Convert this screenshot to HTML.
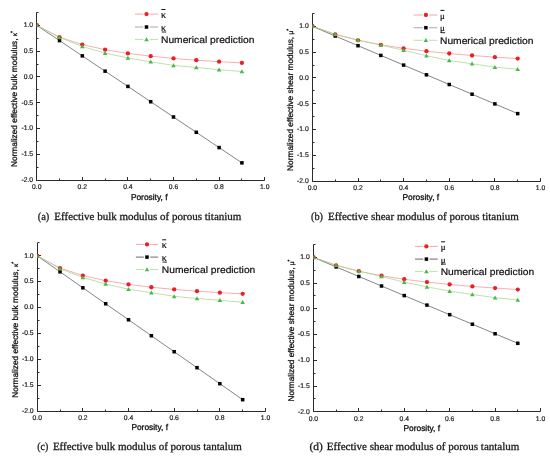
<!DOCTYPE html>
<html><head><meta charset="utf-8"><style>
html,body{margin:0;padding:0;background:#fff;width:550px;height:456px;overflow:hidden}
svg{display:block;will-change:transform;text-rendering:geometricPrecision}
</style></head><body>
<svg width="550" height="456" viewBox="0 0 550 456">
<rect width="550" height="456" fill="#fff"/>
<path d="M36.50 12.40V180.50H264.70" fill="none" stroke="#2a2a2a" stroke-width="1"/>
<path d="M36.50 180.50h3.5M36.50 167.50h2M36.50 154.50h3.5M36.50 141.50h2M36.50 128.50h3.5M36.50 115.50h2M36.50 102.50h3.5M36.50 89.50h2M36.50 76.50h3.5M36.50 64.50h2M36.50 51.50h3.5M36.50 38.50h2M36.50 25.50h3.5M36.50 12.50h2M36.50 180.50v-3.5M59.50 180.50v-2M82.50 180.50v-3.5M105.50 180.50v-2M127.50 180.50v-3.5M150.50 180.50v-2M173.50 180.50v-3.5M196.50 180.50v-2M219.50 180.50v-3.5M241.50 180.50v-2M264.50 180.50v-3.5" fill="none" stroke="#2a2a2a" stroke-width="1"/>
<g font-family='"Liberation Sans", sans-serif' font-size="6.8" fill="#1a1a1a" stroke="#1a1a1a" stroke-width="0.18"><text x="33.10" y="182.00" text-anchor="end">-2.0</text><text x="33.10" y="156.18" text-anchor="end">-1.5</text><text x="33.10" y="130.37" text-anchor="end">-1.0</text><text x="33.10" y="104.55" text-anchor="end">-0.5</text><text x="33.10" y="78.74" text-anchor="end">0.0</text><text x="33.10" y="52.92" text-anchor="end">0.5</text><text x="33.10" y="27.11" text-anchor="end">1.0</text><text x="36.70" y="189.10" text-anchor="middle">0.0</text><text x="82.30" y="189.10" text-anchor="middle">0.2</text><text x="127.90" y="189.10" text-anchor="middle">0.4</text><text x="173.50" y="189.10" text-anchor="middle">0.6</text><text x="219.10" y="189.10" text-anchor="middle">0.8</text><text x="264.70" y="189.10" text-anchor="middle">1.0</text></g>
<text x="149.20" y="200.40" text-anchor="middle" font-family='"Liberation Sans", sans-serif' font-size="8.4" fill="#111" stroke="#111" stroke-width="0.3">Porosity, f</text>
<text transform="translate(17.30 167.00) rotate(-90)" font-family='"Liberation Sans", sans-serif' font-size="8.3" fill="#111" stroke="#111" stroke-width="0.28">Normalized effective bulk modulus, <tspan font-size="6.5">κ</tspan><tspan font-size="5" dy="-3">*</tspan></text>
<clipPath id="c36"><rect x="36.70" y="2.40" width="238.00" height="177.80"/></clipPath><g clip-path="url(#c36)">
<polyline points="36.70,25.31 59.50,37.16 82.30,44.59 105.10,49.68 127.90,53.38 150.70,56.20 173.50,58.42 196.30,60.21 219.10,61.68 241.90,62.92" fill="none" stroke="#f59a9a" stroke-width="0.8"/>
<polyline points="36.70,25.31 59.50,40.59 82.30,55.87 105.10,71.16 127.90,86.44 150.70,101.72 173.50,117.00 196.30,132.29 219.10,147.57 241.90,162.85" fill="none" stroke="#666" stroke-width="0.8"/>
<polyline points="36.70,25.31 59.50,37.44 82.30,46.53 105.10,53.14 127.90,57.94 150.70,61.81 173.50,65.42 196.30,67.44 219.10,69.66 241.90,71.52" fill="none" stroke="#a8dc98" stroke-width="0.8"/>
<rect x="34.95" y="23.56" width="3.5" height="3.5" fill="#000"/><rect x="57.75" y="38.84" width="3.5" height="3.5" fill="#000"/><rect x="80.55" y="54.12" width="3.5" height="3.5" fill="#000"/><rect x="103.35" y="69.41" width="3.5" height="3.5" fill="#000"/><rect x="126.15" y="84.69" width="3.5" height="3.5" fill="#000"/><rect x="148.95" y="99.97" width="3.5" height="3.5" fill="#000"/><rect x="171.75" y="115.25" width="3.5" height="3.5" fill="#000"/><rect x="194.55" y="130.54" width="3.5" height="3.5" fill="#000"/><rect x="217.35" y="145.82" width="3.5" height="3.5" fill="#000"/><rect x="240.15" y="161.10" width="3.5" height="3.5" fill="#000"/><circle cx="36.70" cy="25.31" r="2.15" fill="#ee1c24"/><circle cx="59.50" cy="37.16" r="2.15" fill="#ee1c24"/><circle cx="82.30" cy="44.59" r="2.15" fill="#ee1c24"/><circle cx="105.10" cy="49.68" r="2.15" fill="#ee1c24"/><circle cx="127.90" cy="53.38" r="2.15" fill="#ee1c24"/><circle cx="150.70" cy="56.20" r="2.15" fill="#ee1c24"/><circle cx="173.50" cy="58.42" r="2.15" fill="#ee1c24"/><circle cx="196.30" cy="60.21" r="2.15" fill="#ee1c24"/><circle cx="219.10" cy="61.68" r="2.15" fill="#ee1c24"/><circle cx="241.90" cy="62.92" r="2.15" fill="#ee1c24"/><path d="M36.70 23.11L39.00 27.11H34.40Z" fill="#4cb848"/><path d="M59.50 35.24L61.80 39.24H57.20Z" fill="#4cb848"/><path d="M82.30 44.33L84.60 48.33H80.00Z" fill="#4cb848"/><path d="M105.10 50.94L107.40 54.94H102.80Z" fill="#4cb848"/><path d="M127.90 55.74L130.20 59.74H125.60Z" fill="#4cb848"/><path d="M150.70 59.61L153.00 63.61H148.40Z" fill="#4cb848"/><path d="M173.50 63.22L175.80 67.22H171.20Z" fill="#4cb848"/><path d="M196.30 65.24L198.60 69.24H194.00Z" fill="#4cb848"/><path d="M219.10 67.46L221.40 71.46H216.80Z" fill="#4cb848"/><path d="M241.90 69.32L244.20 73.32H239.60Z" fill="#4cb848"/>
</g>
<path d="M135.00 14.10H143.30M149.70 14.10H158.00" stroke="#f59a9a" stroke-width="0.9"/>
<path d="M135.00 27.00H143.30M149.70 27.00H158.00" stroke="#aaa" stroke-width="1.1"/>
<path d="M135.00 39.40H143.30M149.70 39.40H158.00" stroke="#a8dc98" stroke-width="0.8"/>
<circle cx="146.50" cy="14.10" r="2.15" fill="#ee1c24"/>
<rect x="144.75" y="25.25" width="3.5" height="3.5" fill="#000"/>
<path d="M146.50 37.20L148.80 41.20H144.20Z" fill="#4cb848"/>
<text x="161.00" y="17.70" font-family='"Liberation Serif", serif' font-size="10" fill="#111" stroke="#111" stroke-width="0.2">κ</text>
<path d="M161.40 9.50h4" stroke="#111" stroke-width="1"/>
<text x="161.00" y="30.70" font-family='"Liberation Serif", serif' font-size="10" fill="#111" stroke="#111" stroke-width="0.2">κ</text>
<path d="M161.80 32.00h4.4" stroke="#111" stroke-width="0.9"/>
<text x="161.00" y="42.80" font-family='"Liberation Sans", sans-serif' font-size="9.6" textLength="93.5" lengthAdjust="spacingAndGlyphs" fill="#111" stroke="#111" stroke-width="0.2">Numerical prediction</text>
<g font-family='"Liberation Serif", serif' font-size="11" fill="#1a1a1a" stroke="#1a1a1a" stroke-width="0.3"><text x="37.65" y="220.00" textLength="11.70" lengthAdjust="spacingAndGlyphs">(a)</text><text x="54.30" y="220.00">Effective bulk modulus of porous titanium</text></g>
<path d="M312.50 13.40V181.50H540.50" fill="none" stroke="#2a2a2a" stroke-width="1"/>
<path d="M312.50 181.50h3.5M312.50 168.50h2M312.50 155.50h3.5M312.50 142.50h2M312.50 129.50h3.5M312.50 116.50h2M312.50 103.50h3.5M312.50 90.50h2M312.50 77.50h3.5M312.50 65.50h2M312.50 52.50h3.5M312.50 39.50h2M312.50 26.50h3.5M312.50 13.50h2M312.50 181.50v-3.5M335.50 181.50v-2M358.50 181.50v-3.5M380.50 181.50v-2M403.50 181.50v-3.5M426.50 181.50v-2M449.50 181.50v-3.5M472.50 181.50v-2M494.50 181.50v-3.5M517.50 181.50v-2M540.50 181.50v-3.5" fill="none" stroke="#2a2a2a" stroke-width="1"/>
<g font-family='"Liberation Sans", sans-serif' font-size="6.8" fill="#1a1a1a" stroke="#1a1a1a" stroke-width="0.18"><text x="308.80" y="182.90" text-anchor="end">-2.0</text><text x="308.80" y="157.10" text-anchor="end">-1.5</text><text x="308.80" y="131.30" text-anchor="end">-1.0</text><text x="308.80" y="105.50" text-anchor="end">-0.5</text><text x="308.80" y="79.70" text-anchor="end">0.0</text><text x="308.80" y="53.90" text-anchor="end">0.5</text><text x="308.80" y="28.10" text-anchor="end">1.0</text><text x="312.40" y="190.00" text-anchor="middle">0.0</text><text x="358.02" y="190.00" text-anchor="middle">0.2</text><text x="403.64" y="190.00" text-anchor="middle">0.4</text><text x="449.26" y="190.00" text-anchor="middle">0.6</text><text x="494.88" y="190.00" text-anchor="middle">0.8</text><text x="540.50" y="190.00" text-anchor="middle">1.0</text></g>
<text x="420.85" y="200.40" text-anchor="middle" font-family='"Liberation Sans", sans-serif' font-size="8.4" fill="#111" stroke="#111" stroke-width="0.3">Porosity, f</text>
<text transform="translate(293.00 170.90) rotate(-90)" font-family='"Liberation Sans", sans-serif' font-size="8.3" fill="#111" stroke="#111" stroke-width="0.28">Normalized effective shear modulus, <tspan font-size="6.5">μ</tspan><tspan font-size="5" dy="-3">*</tspan></text>
<clipPath id="c312"><rect x="312.40" y="3.40" width="238.10" height="177.70"/></clipPath><g clip-path="url(#c312)">
<polyline points="312.40,26.30 335.21,34.39 358.02,40.29 380.83,44.78 403.64,48.31 426.45,51.16 449.26,53.51 472.07,55.48 494.88,57.16 517.69,58.60" fill="none" stroke="#f59a9a" stroke-width="0.8"/>
<polyline points="312.40,26.30 335.21,36.00 358.02,45.70 380.83,55.40 403.64,65.10 426.45,74.80 449.26,84.50 472.07,94.21 494.88,103.91 517.69,113.61" fill="none" stroke="#666" stroke-width="0.8"/>
<polyline points="312.40,26.30 335.21,34.14 358.02,40.08 380.83,45.08 403.64,50.29 426.45,55.71 449.26,60.51 472.07,63.81 494.88,67.12 517.69,69.28" fill="none" stroke="#a8dc98" stroke-width="0.8"/>
<rect x="310.65" y="24.55" width="3.5" height="3.5" fill="#000"/><rect x="333.46" y="34.25" width="3.5" height="3.5" fill="#000"/><rect x="356.27" y="43.95" width="3.5" height="3.5" fill="#000"/><rect x="379.08" y="53.65" width="3.5" height="3.5" fill="#000"/><rect x="401.89" y="63.35" width="3.5" height="3.5" fill="#000"/><rect x="424.70" y="73.05" width="3.5" height="3.5" fill="#000"/><rect x="447.51" y="82.75" width="3.5" height="3.5" fill="#000"/><rect x="470.32" y="92.46" width="3.5" height="3.5" fill="#000"/><rect x="493.13" y="102.16" width="3.5" height="3.5" fill="#000"/><rect x="515.94" y="111.86" width="3.5" height="3.5" fill="#000"/><circle cx="312.40" cy="26.30" r="2.15" fill="#ee1c24"/><circle cx="335.21" cy="34.39" r="2.15" fill="#ee1c24"/><circle cx="358.02" cy="40.29" r="2.15" fill="#ee1c24"/><circle cx="380.83" cy="44.78" r="2.15" fill="#ee1c24"/><circle cx="403.64" cy="48.31" r="2.15" fill="#ee1c24"/><circle cx="426.45" cy="51.16" r="2.15" fill="#ee1c24"/><circle cx="449.26" cy="53.51" r="2.15" fill="#ee1c24"/><circle cx="472.07" cy="55.48" r="2.15" fill="#ee1c24"/><circle cx="494.88" cy="57.16" r="2.15" fill="#ee1c24"/><circle cx="517.69" cy="58.60" r="2.15" fill="#ee1c24"/><path d="M312.40 24.10L314.70 28.10H310.10Z" fill="#4cb848"/><path d="M335.21 31.94L337.51 35.94H332.91Z" fill="#4cb848"/><path d="M358.02 37.88L360.32 41.88H355.72Z" fill="#4cb848"/><path d="M380.83 42.88L383.13 46.88H378.53Z" fill="#4cb848"/><path d="M403.64 48.09L405.94 52.09H401.34Z" fill="#4cb848"/><path d="M426.45 53.51L428.75 57.51H424.15Z" fill="#4cb848"/><path d="M449.26 58.31L451.56 62.31H446.96Z" fill="#4cb848"/><path d="M472.07 61.61L474.37 65.61H469.77Z" fill="#4cb848"/><path d="M494.88 64.92L497.18 68.92H492.58Z" fill="#4cb848"/><path d="M517.69 67.08L519.99 71.08H515.39Z" fill="#4cb848"/>
</g>
<path d="M413.60 15.00H422.70M429.10 15.00H437.30" stroke="#f59a9a" stroke-width="0.9"/>
<path d="M413.60 27.70H422.70M429.10 27.70H437.30" stroke="#aaa" stroke-width="1.1"/>
<path d="M413.60 40.30H422.70M429.10 40.30H437.30" stroke="#a8dc98" stroke-width="0.8"/>
<circle cx="425.90" cy="15.00" r="2.15" fill="#ee1c24"/>
<rect x="424.15" y="25.95" width="3.5" height="3.5" fill="#000"/>
<path d="M425.90 38.10L428.20 42.10H423.60Z" fill="#4cb848"/>
<text x="440.00" y="18.60" font-family='"Liberation Serif", serif' font-size="9" fill="#111" stroke="#111" stroke-width="0.2">μ</text>
<path d="M440.40 10.40h4" stroke="#111" stroke-width="1"/>
<text x="440.00" y="31.40" font-family='"Liberation Serif", serif' font-size="9" fill="#111" stroke="#111" stroke-width="0.2">μ</text>
<path d="M440.80 32.70h4.4" stroke="#111" stroke-width="0.9"/>
<text x="440.00" y="43.70" font-family='"Liberation Sans", sans-serif' font-size="9.6" textLength="93.5" lengthAdjust="spacingAndGlyphs" fill="#111" stroke="#111" stroke-width="0.2">Numerical prediction</text>
<g font-family='"Liberation Serif", serif' font-size="11" fill="#1a1a1a" stroke="#1a1a1a" stroke-width="0.3"><text x="311.05" y="220.00" textLength="12.00" lengthAdjust="spacingAndGlyphs">(b)</text><text x="328.10" y="220.00">Effective shear modulus of porous titanium</text></g>
<path d="M37.50 242.90V411.50H265.50" fill="none" stroke="#2a2a2a" stroke-width="1"/>
<path d="M37.50 411.50h3.5M37.50 398.50h2M37.50 385.50h3.5M37.50 372.50h2M37.50 359.50h3.5M37.50 346.50h2M37.50 333.50h3.5M37.50 320.50h2M37.50 307.50h3.5M37.50 294.50h2M37.50 281.50h3.5M37.50 268.50h2M37.50 255.50h3.5M37.50 242.50h2M37.50 411.50v-3.5M60.50 411.50v-2M82.50 411.50v-3.5M105.50 411.50v-2M128.50 411.50v-3.5M151.50 411.50v-2M174.50 411.50v-3.5M197.50 411.50v-2M219.50 411.50v-3.5M242.50 411.50v-2M265.50 411.50v-3.5" fill="none" stroke="#2a2a2a" stroke-width="1"/>
<g font-family='"Liberation Sans", sans-serif' font-size="6.8" fill="#1a1a1a" stroke="#1a1a1a" stroke-width="0.18"><text x="33.60" y="412.80" text-anchor="end">-2.0</text><text x="33.60" y="386.94" text-anchor="end">-1.5</text><text x="33.60" y="361.08" text-anchor="end">-1.0</text><text x="33.60" y="335.22" text-anchor="end">-0.5</text><text x="33.60" y="309.35" text-anchor="end">0.0</text><text x="33.60" y="283.49" text-anchor="end">0.5</text><text x="33.60" y="257.63" text-anchor="end">1.0</text><text x="37.20" y="419.90" text-anchor="middle">0.0</text><text x="82.86" y="419.90" text-anchor="middle">0.2</text><text x="128.52" y="419.90" text-anchor="middle">0.4</text><text x="174.18" y="419.90" text-anchor="middle">0.6</text><text x="219.84" y="419.90" text-anchor="middle">0.8</text><text x="265.50" y="419.90" text-anchor="middle">1.0</text></g>
<text x="149.70" y="430.40" text-anchor="middle" font-family='"Liberation Sans", sans-serif' font-size="8.4" fill="#111" stroke="#111" stroke-width="0.3">Porosity, f</text>
<text transform="translate(17.80 397.80) rotate(-90)" font-family='"Liberation Sans", sans-serif' font-size="8.3" fill="#111" stroke="#111" stroke-width="0.28">Normalized effective bulk modulus, <tspan font-size="6.5">κ</tspan><tspan font-size="5" dy="-3">*</tspan></text>
<clipPath id="c37"><rect x="37.20" y="232.90" width="238.30" height="178.10"/></clipPath><g clip-path="url(#c37)">
<polyline points="37.20,255.83 60.03,268.04 82.86,275.59 105.69,280.71 128.52,284.42 151.35,287.23 174.18,289.43 197.01,291.20 219.84,292.66 242.67,293.87" fill="none" stroke="#f59a9a" stroke-width="0.8"/>
<polyline points="37.20,255.83 60.03,271.81 82.86,287.80 105.69,303.78 128.52,319.76 151.35,335.74 174.18,351.73 197.01,367.71 219.84,383.69 242.67,399.67" fill="none" stroke="#666" stroke-width="0.8"/>
<polyline points="37.20,255.83 60.03,268.71 82.86,277.45 105.69,283.97 128.52,289.24 151.35,292.66 174.18,296.33 197.01,298.55 219.84,300.26 242.67,302.23" fill="none" stroke="#a8dc98" stroke-width="0.8"/>
<rect x="35.45" y="254.08" width="3.5" height="3.5" fill="#000"/><rect x="58.28" y="270.06" width="3.5" height="3.5" fill="#000"/><rect x="81.11" y="286.05" width="3.5" height="3.5" fill="#000"/><rect x="103.94" y="302.03" width="3.5" height="3.5" fill="#000"/><rect x="126.77" y="318.01" width="3.5" height="3.5" fill="#000"/><rect x="149.60" y="333.99" width="3.5" height="3.5" fill="#000"/><rect x="172.43" y="349.98" width="3.5" height="3.5" fill="#000"/><rect x="195.26" y="365.96" width="3.5" height="3.5" fill="#000"/><rect x="218.09" y="381.94" width="3.5" height="3.5" fill="#000"/><rect x="240.92" y="397.92" width="3.5" height="3.5" fill="#000"/><circle cx="37.20" cy="255.83" r="2.15" fill="#ee1c24"/><circle cx="60.03" cy="268.04" r="2.15" fill="#ee1c24"/><circle cx="82.86" cy="275.59" r="2.15" fill="#ee1c24"/><circle cx="105.69" cy="280.71" r="2.15" fill="#ee1c24"/><circle cx="128.52" cy="284.42" r="2.15" fill="#ee1c24"/><circle cx="151.35" cy="287.23" r="2.15" fill="#ee1c24"/><circle cx="174.18" cy="289.43" r="2.15" fill="#ee1c24"/><circle cx="197.01" cy="291.20" r="2.15" fill="#ee1c24"/><circle cx="219.84" cy="292.66" r="2.15" fill="#ee1c24"/><circle cx="242.67" cy="293.87" r="2.15" fill="#ee1c24"/><path d="M37.20 253.63L39.50 257.63H34.90Z" fill="#4cb848"/><path d="M60.03 266.51L62.33 270.51H57.73Z" fill="#4cb848"/><path d="M82.86 275.25L85.16 279.25H80.56Z" fill="#4cb848"/><path d="M105.69 281.77L107.99 285.77H103.39Z" fill="#4cb848"/><path d="M128.52 287.04L130.82 291.04H126.22Z" fill="#4cb848"/><path d="M151.35 290.46L153.65 294.46H149.05Z" fill="#4cb848"/><path d="M174.18 294.13L176.48 298.13H171.88Z" fill="#4cb848"/><path d="M197.01 296.35L199.31 300.35H194.71Z" fill="#4cb848"/><path d="M219.84 298.06L222.14 302.06H217.54Z" fill="#4cb848"/><path d="M242.67 300.03L244.97 304.03H240.37Z" fill="#4cb848"/>
</g>
<path d="M135.90 244.40H143.80M150.20 244.40H158.20" stroke="#f59a9a" stroke-width="0.9"/>
<path d="M135.90 257.10H143.80M150.20 257.10H158.20" stroke="#444" stroke-width="0.8"/>
<path d="M135.90 269.50H143.80M150.20 269.50H158.20" stroke="#a8dc98" stroke-width="0.8"/>
<circle cx="147.00" cy="244.40" r="2.15" fill="#ee1c24"/>
<rect x="145.25" y="255.35" width="3.5" height="3.5" fill="#000"/>
<path d="M147.00 267.30L149.30 271.30H144.70Z" fill="#4cb848"/>
<text x="161.80" y="248.00" font-family='"Liberation Serif", serif' font-size="10" fill="#111" stroke="#111" stroke-width="0.2">κ</text>
<path d="M162.20 239.80h4" stroke="#111" stroke-width="1"/>
<text x="161.80" y="260.80" font-family='"Liberation Serif", serif' font-size="10" fill="#111" stroke="#111" stroke-width="0.2">κ</text>
<path d="M162.60 262.10h4.4" stroke="#111" stroke-width="0.9"/>
<text x="161.80" y="272.90" font-family='"Liberation Sans", sans-serif' font-size="9.6" textLength="93.5" lengthAdjust="spacingAndGlyphs" fill="#111" stroke="#111" stroke-width="0.2">Numerical prediction</text>
<g font-family='"Liberation Serif", serif' font-size="11" fill="#1a1a1a" stroke="#1a1a1a" stroke-width="0.3"><text x="37.25" y="449.50" textLength="11.10" lengthAdjust="spacingAndGlyphs">(c)</text><text x="52.90" y="449.50">Effective bulk modulus of porous tantalum</text></g>
<path d="M313.50 244.50V411.50H540.50" fill="none" stroke="#2a2a2a" stroke-width="1"/>
<path d="M313.50 411.50h3.5M313.50 398.50h2M313.50 386.50h3.5M313.50 373.50h2M313.50 360.50h3.5M313.50 347.50h2M313.50 334.50h3.5M313.50 321.50h2M313.50 308.50h3.5M313.50 295.50h2M313.50 283.50h3.5M313.50 270.50h2M313.50 257.50h3.5M313.50 244.50h2M313.50 411.50v-3.5M336.50 411.50v-2M358.50 411.50v-3.5M381.50 411.50v-2M404.50 411.50v-3.5M426.50 411.50v-2M449.50 411.50v-3.5M472.50 411.50v-2M495.50 411.50v-3.5M517.50 411.50v-2M540.50 411.50v-3.5" fill="none" stroke="#2a2a2a" stroke-width="1"/>
<g font-family='"Liberation Sans", sans-serif' font-size="6.8" fill="#1a1a1a" stroke="#1a1a1a" stroke-width="0.18"><text x="309.80" y="413.60" text-anchor="end">-2.0</text><text x="309.80" y="387.86" text-anchor="end">-1.5</text><text x="309.80" y="362.12" text-anchor="end">-1.0</text><text x="309.80" y="336.38" text-anchor="end">-0.5</text><text x="309.80" y="310.65" text-anchor="end">0.0</text><text x="309.80" y="284.91" text-anchor="end">0.5</text><text x="309.80" y="259.17" text-anchor="end">1.0</text><text x="313.40" y="420.70" text-anchor="middle">0.0</text><text x="358.82" y="420.70" text-anchor="middle">0.2</text><text x="404.24" y="420.70" text-anchor="middle">0.4</text><text x="449.66" y="420.70" text-anchor="middle">0.6</text><text x="495.08" y="420.70" text-anchor="middle">0.8</text><text x="540.50" y="420.70" text-anchor="middle">1.0</text></g>
<text x="421.80" y="430.80" text-anchor="middle" font-family='"Liberation Sans", sans-serif' font-size="8.4" fill="#111" stroke="#111" stroke-width="0.3">Porosity, f</text>
<text transform="translate(294.00 401.60) rotate(-90)" font-family='"Liberation Sans", sans-serif' font-size="8.3" fill="#111" stroke="#111" stroke-width="0.28">Normalized effective shear modulus, <tspan font-size="6.5">μ</tspan><tspan font-size="5" dy="-3">*</tspan></text>
<clipPath id="c313"><rect x="313.40" y="234.50" width="237.10" height="177.30"/></clipPath><g clip-path="url(#c313)">
<polyline points="313.40,257.37 336.11,265.41 358.82,271.27 381.53,275.74 404.24,279.26 426.95,282.10 449.66,284.45 472.37,286.42 495.08,288.09 517.79,289.53" fill="none" stroke="#f59a9a" stroke-width="0.8"/>
<polyline points="313.40,257.37 336.11,266.92 358.82,276.47 381.53,286.02 404.24,295.57 426.95,305.11 449.66,314.66 472.37,324.21 495.08,333.76 517.79,343.31" fill="none" stroke="#666" stroke-width="0.8"/>
<polyline points="313.40,257.37 336.11,265.09 358.82,271.17 381.53,276.57 404.24,282.08 426.95,286.87 449.66,291.14 472.37,294.43 495.08,297.68 517.79,299.84" fill="none" stroke="#a8dc98" stroke-width="0.8"/>
<rect x="311.65" y="255.62" width="3.5" height="3.5" fill="#000"/><rect x="334.36" y="265.17" width="3.5" height="3.5" fill="#000"/><rect x="357.07" y="274.72" width="3.5" height="3.5" fill="#000"/><rect x="379.78" y="284.27" width="3.5" height="3.5" fill="#000"/><rect x="402.49" y="293.82" width="3.5" height="3.5" fill="#000"/><rect x="425.20" y="303.36" width="3.5" height="3.5" fill="#000"/><rect x="447.91" y="312.91" width="3.5" height="3.5" fill="#000"/><rect x="470.62" y="322.46" width="3.5" height="3.5" fill="#000"/><rect x="493.33" y="332.01" width="3.5" height="3.5" fill="#000"/><rect x="516.04" y="341.56" width="3.5" height="3.5" fill="#000"/><circle cx="313.40" cy="257.37" r="2.15" fill="#ee1c24"/><circle cx="336.11" cy="265.41" r="2.15" fill="#ee1c24"/><circle cx="358.82" cy="271.27" r="2.15" fill="#ee1c24"/><circle cx="381.53" cy="275.74" r="2.15" fill="#ee1c24"/><circle cx="404.24" cy="279.26" r="2.15" fill="#ee1c24"/><circle cx="426.95" cy="282.10" r="2.15" fill="#ee1c24"/><circle cx="449.66" cy="284.45" r="2.15" fill="#ee1c24"/><circle cx="472.37" cy="286.42" r="2.15" fill="#ee1c24"/><circle cx="495.08" cy="288.09" r="2.15" fill="#ee1c24"/><circle cx="517.79" cy="289.53" r="2.15" fill="#ee1c24"/><path d="M313.40 255.17L315.70 259.17H311.10Z" fill="#4cb848"/><path d="M336.11 262.89L338.41 266.89H333.81Z" fill="#4cb848"/><path d="M358.82 268.97L361.12 272.97H356.52Z" fill="#4cb848"/><path d="M381.53 274.37L383.83 278.37H379.23Z" fill="#4cb848"/><path d="M404.24 279.88L406.54 283.88H401.94Z" fill="#4cb848"/><path d="M426.95 284.67L429.25 288.67H424.65Z" fill="#4cb848"/><path d="M449.66 288.94L451.96 292.94H447.36Z" fill="#4cb848"/><path d="M472.37 292.23L474.67 296.23H470.07Z" fill="#4cb848"/><path d="M495.08 295.48L497.38 299.48H492.78Z" fill="#4cb848"/><path d="M517.79 297.64L520.09 301.64H515.49Z" fill="#4cb848"/>
</g>
<path d="M415.00 246.40H423.20M429.60 246.40H437.70" stroke="#f59a9a" stroke-width="0.9"/>
<path d="M415.00 259.10H423.20M429.60 259.10H437.70" stroke="#555" stroke-width="0.9"/>
<path d="M415.00 271.40H423.20M429.60 271.40H437.70" stroke="#a8dc98" stroke-width="0.8"/>
<circle cx="426.40" cy="246.40" r="2.15" fill="#ee1c24"/>
<rect x="424.65" y="257.35" width="3.5" height="3.5" fill="#000"/>
<path d="M426.40 269.20L428.70 273.20H424.10Z" fill="#4cb848"/>
<text x="440.70" y="250.00" font-family='"Liberation Serif", serif' font-size="9" fill="#111" stroke="#111" stroke-width="0.2">μ</text>
<path d="M441.10 241.80h4" stroke="#111" stroke-width="1"/>
<text x="440.70" y="262.80" font-family='"Liberation Serif", serif' font-size="9" fill="#111" stroke="#111" stroke-width="0.2">μ</text>
<path d="M441.50 264.10h4.4" stroke="#111" stroke-width="0.9"/>
<text x="440.70" y="274.80" font-family='"Liberation Sans", sans-serif' font-size="9.6" textLength="93.5" lengthAdjust="spacingAndGlyphs" fill="#111" stroke="#111" stroke-width="0.2">Numerical prediction</text>
<g font-family='"Liberation Serif", serif' font-size="11" fill="#1a1a1a" stroke="#1a1a1a" stroke-width="0.3"><text x="309.55" y="449.60" textLength="13.30" lengthAdjust="spacingAndGlyphs">(d)</text><text x="326.80" y="449.60">Effective shear modulus of porous tantalum</text></g>
</svg>
</body></html>
